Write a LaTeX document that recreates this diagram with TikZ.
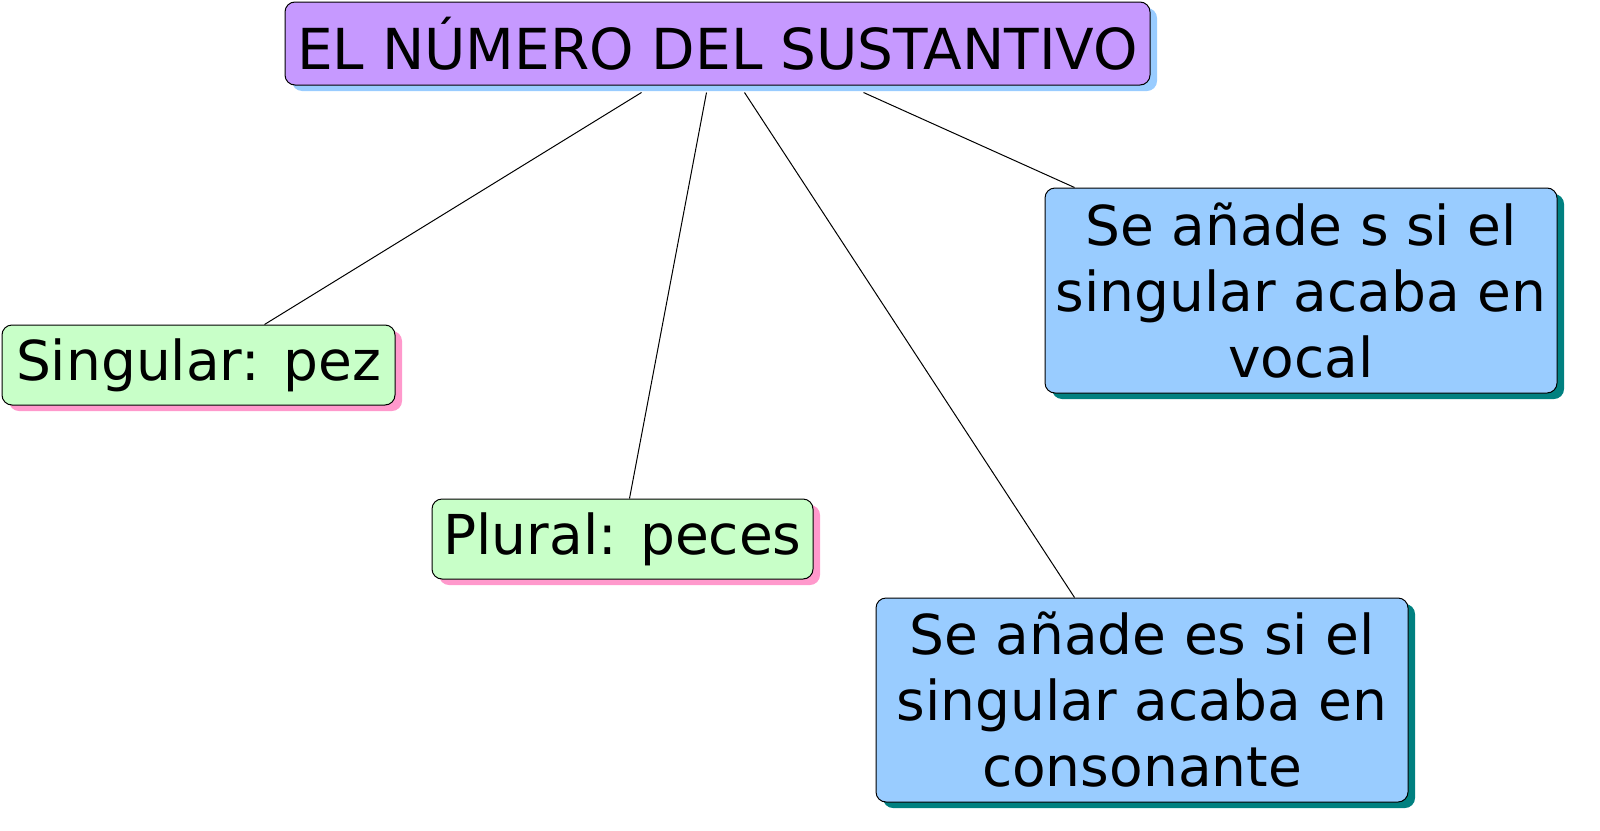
\documentclass[tikz,border=0pt]{standalone}
\usepackage{fontspec}
\setmainfont{DejaVu Sans}
\usetikzlibrary{shadows,calc}
\definecolor{titlefill}{HTML}{C699FF}
\definecolor{lblue}{HTML}{99CCFF}
\definecolor{lgreen}{HTML}{C8FFC8}
\definecolor{lpink}{HTML}{FF99CC}
\definecolor{lteal}{HTML}{008080}
\tikzset{
  box/.style={draw=black, line width=1pt, rounded corners=10pt, align=center, inner sep=0pt,
    font=\fontsize{55}{66}\selectfont},
  titlebox/.style={box, fill=titlefill, minimum width=865pt, minimum height=83pt,
    font=\fontsize{56.5}{66}\selectfont,
    drop shadow={shadow xshift=7pt, shadow yshift=-6pt, fill=lblue, opacity=1}},
  greenbox/.style={box, fill=lgreen, minimum height=80pt,
    drop shadow={shadow xshift=7pt, shadow yshift=-6pt, fill=lpink, opacity=1}},
  bluebox/.style={box, fill=lblue,
    drop shadow={shadow xshift=7pt, shadow yshift=-6pt, fill=lteal, opacity=1}},
  conn/.style={draw=black, line width=1pt}
}
\begin{document}
\begin{tikzpicture}[x=1pt,y=-1pt]
\node[titlebox] (title) at (717.5,43.5) {EL NÚMERO DEL SUSTANTIVO};
\node[greenbox, minimum width=393pt] (sing) at (198.5,365) {Singular: pez};
\node[greenbox, minimum width=381pt] (plur) at (622.5,539) {Plural: peces};
\node[bluebox, minimum width=512pt, minimum height=205pt] (svoc) at (1301,290.5) {Se añade s si el~\\singular acaba en~\\vocal};
\node[bluebox, minimum width=532pt, minimum height=204pt] (escon) at (1142,700) {Se añade es si el\\singular acaba en~\\consonante};
\coordinate (t1) at ($(title.south west)+(357,7)$);
\coordinate (t2) at ($(title.south west)+(422,7)$);
\coordinate (t3) at ($(title.south west)+(460,7)$);
\coordinate (t4) at ($(title.south west)+(579,7)$);
\draw[conn] (t1) -- ($(sing.north west)+(263,0)$);
\draw[conn] (t2) -- ($(plur.north west)+(198,0)$);
\draw[conn] (t3) -- ($(escon.north west)+(199,0)$);
\draw[conn] (t4) -- ($(svoc.north west)+(30,0)$);
\pgfresetboundingbox
\useasboundingbox (0,0) rectangle (1600,830);
\end{tikzpicture}
\end{document}
